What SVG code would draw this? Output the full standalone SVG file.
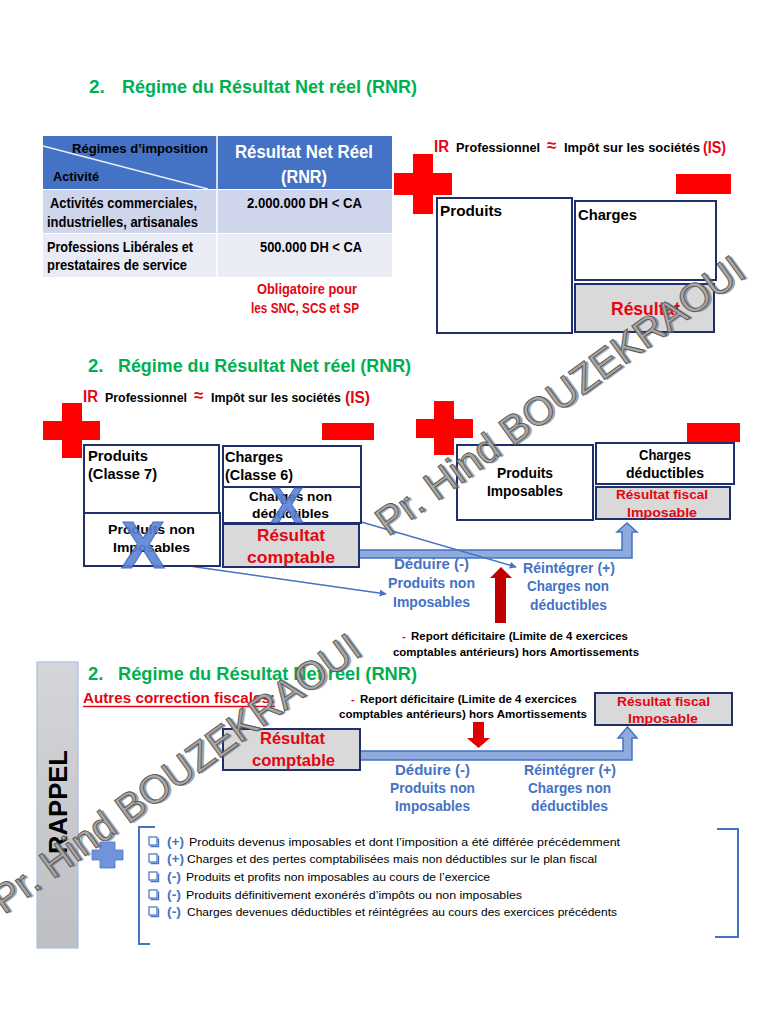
<svg xmlns="http://www.w3.org/2000/svg" width="768" height="1024" viewBox="0 0 768 1024">
<defs>
<style>
.t{font-family:"Liberation Sans",Arial,sans-serif;font-weight:bold}
.n{font-family:"Liberation Sans",Arial,sans-serif;font-weight:normal}
.g{fill:#00b050}
.r{fill:#e30613}
.dr{fill:#e00000}
.b{fill:#4472c4}
.k{fill:#000}
.w{fill:#fff}
.box{fill:#fff;stroke:#1f2f6b;stroke-width:2}
.gbox{fill:#d9d9d9;stroke:#1f2f6b;stroke-width:2}
.cross{fill:#ff0000}
.fat{fill:#8faadc;stroke:#4472c4;stroke-width:1.5}
.thin{stroke:#4472c4;stroke-width:1.6;fill:none}
.xx{fill:#5b82d6;stroke:#3a5fae;stroke-width:1;opacity:0.9}
.wm{font-family:"Liberation Sans",Arial,sans-serif;font-size:40px;fill:#a8a8a8;stroke:#555;stroke-width:0.9}
.wms{font-family:"Liberation Sans",Arial,sans-serif;font-size:40px;fill:#6a6a6a;opacity:0.6}
.cb{fill:none;stroke:#4472c4;stroke-width:1.2}
</style>
<marker id="ah" viewBox="0 0 10 10" refX="9" refY="5" markerWidth="7" markerHeight="7" orient="auto" markerUnits="userSpaceOnUse">
<path d="M0,0 L10,5 L0,10 Z" fill="#4472c4"/>
</marker>
<linearGradient id="rg" x1="0" y1="0" x2="0" y2="1">
<stop offset="0" stop-color="#d4d6da"/>
<stop offset="1" stop-color="#bdbfc2"/>
</linearGradient>
</defs>
<rect width="768" height="1024" fill="#fff"/>

<!-- ===== Section 1 ===== -->
<g id="title1">
<text class="t g" x="89" y="93" font-size="19">2.</text>
<text class="t g" x="122" y="93" font-size="19" textLength="295" lengthAdjust="spacingAndGlyphs">Régime du Résultat Net réel (RNR)</text>
</g>

<g id="table">
<rect x="43" y="136" width="349" height="53" fill="#4472c4"/>
<rect x="43" y="190" width="349" height="43" fill="#cfd5ea"/>
<rect x="43" y="234" width="349" height="43" fill="#e9ebf5"/>
<line x1="217" y1="136" x2="217" y2="277" stroke="#fff" stroke-width="1.5"/>
<line x1="43" y1="146" x2="208" y2="189" stroke="#e8eefa" stroke-width="1.3"/>
<text class="t k" x="72" y="153" font-size="13" textLength="136" lengthAdjust="spacingAndGlyphs">Régimes  d’imposition</text>
<text class="t k" x="53" y="181" font-size="13" textLength="46" lengthAdjust="spacingAndGlyphs">Activité</text>
<text class="t w" x="235" y="158" font-size="18" textLength="138" lengthAdjust="spacingAndGlyphs">Résultat Net Réel</text>
<text class="t w" x="281" y="183" font-size="18" textLength="46" lengthAdjust="spacingAndGlyphs">(RNR)</text>
<text class="t k" x="50" y="208" font-size="14" textLength="147" lengthAdjust="spacingAndGlyphs">Activités commerciales,</text>
<text class="t k" x="47" y="227" font-size="14" textLength="151" lengthAdjust="spacingAndGlyphs">industrielles, artisanales</text>
<text class="t k" x="247" y="208" font-size="14" textLength="115" lengthAdjust="spacingAndGlyphs">2.000.000 DH &lt; CA</text>
<text class="t k" x="47" y="252" font-size="14" textLength="146" lengthAdjust="spacingAndGlyphs">Professions Libérales et</text>
<text class="t k" x="47" y="270" font-size="14" textLength="140" lengthAdjust="spacingAndGlyphs">prestataires de service</text>
<text class="t k" x="260" y="252" font-size="14" textLength="102" lengthAdjust="spacingAndGlyphs">500.000 DH &lt; CA</text>
<text class="t r" x="257" y="294" font-size="14" textLength="100" lengthAdjust="spacingAndGlyphs">Obligatoire pour</text>
<text class="t r" x="251" y="313" font-size="14" textLength="108" lengthAdjust="spacingAndGlyphs">les SNC, SCS et SP</text>
</g>

<g id="ir1">
<text class="t r" x="434" y="152" font-size="16" textLength="15" lengthAdjust="spacingAndGlyphs">IR</text>
<text class="t k" x="456" y="152" font-size="13" textLength="84" lengthAdjust="spacingAndGlyphs">Professionnel</text>
<text class="t r" x="547" y="151" font-size="17">≈</text>
<text class="t k" x="564" y="152" font-size="13" textLength="136" lengthAdjust="spacingAndGlyphs">Impôt sur les sociétés</text>
<text class="t r" x="703" y="153" font-size="16" textLength="23" lengthAdjust="spacingAndGlyphs">(IS)</text>
</g>

<g id="plus1"><rect class="cross" x="394" y="173" width="58" height="22"/><rect class="cross" x="413" y="154" width="20" height="60"/></g>
<g id="minus1"><rect class="cross" x="676" y="174" width="55" height="20"/></g>

<g id="produits1"><rect class="box" x="437" y="198" width="135" height="135"/>
<text class="t k" x="440" y="216" font-size="15.5" textLength="62" lengthAdjust="spacingAndGlyphs">Produits</text></g>
<g id="charges1"><rect class="box" x="575" y="201" width="141" height="79"/>
<text class="t k" x="578" y="220" font-size="15.5" textLength="59" lengthAdjust="spacingAndGlyphs">Charges</text></g>
<g id="resultat1"><rect class="gbox" x="575" y="284" width="139" height="48"/>
<text class="t r" x="611" y="315" font-size="18" textLength="69" lengthAdjust="spacingAndGlyphs">Résultat</text></g>

<!-- ===== Section 2 ===== -->
<g id="title2">
<text class="t g" x="88" y="372" font-size="18.5">2.</text>
<text class="t g" x="118" y="372" font-size="18.5" textLength="293" lengthAdjust="spacingAndGlyphs">Régime du Résultat Net réel (RNR)</text>
</g>
<g id="ir2">
<text class="t r" x="83" y="402" font-size="16" textLength="15" lengthAdjust="spacingAndGlyphs">IR</text>
<text class="t k" x="105" y="402" font-size="13" textLength="82" lengthAdjust="spacingAndGlyphs">Professionnel</text>
<text class="t r" x="194" y="401" font-size="17">≈</text>
<text class="t k" x="211" y="402" font-size="13" textLength="130" lengthAdjust="spacingAndGlyphs">Impôt sur les sociétés</text>
<text class="t r" x="345" y="403" font-size="16" textLength="25" lengthAdjust="spacingAndGlyphs">(IS)</text>
</g>

<g id="plus2"><rect class="cross" x="43" y="421" width="57" height="19"/><rect class="cross" x="62" y="403" width="20" height="55"/></g>
<g id="minus2"><rect class="cross" x="322" y="423" width="52" height="17"/></g>
<g id="plus3"><rect class="cross" x="416" y="419" width="57" height="19"/><rect class="cross" x="434" y="401" width="20" height="54"/></g>
<g id="minus3"><rect class="cross" x="687" y="423" width="53" height="19"/></g>

<g id="connectors">
<polygon class="fat" points="355,550 622,550 622,532 617,532 627,523 637,532 632,532 632,558 355,558"/>
<polygon fill="#c00000" points="495,623 495,578 490,578 501,567 512,578 506,578 506,623"/>
<line class="thin" x1="168" y1="563" x2="386" y2="594" marker-end="url(#ah)"/>
<line class="thin" x1="327" y1="512" x2="516" y2="567" marker-end="url(#ah)"/>
<polygon class="fat" points="357,751 623,751 623,738 618,738 627.5,727 637,738 632,738 632,760 357,760"/>
<polygon fill="#e00000" points="473,722 484,722 484,738 490,738 478.5,748 467,738 473,738"/>
</g>

<g id="produits2"><rect class="box" x="84" y="445" width="135" height="68"/>
<text class="t k" x="88" y="461" font-size="15" textLength="60" lengthAdjust="spacingAndGlyphs">Produits</text>
<text class="t k" x="88" y="479" font-size="15" textLength="69" lengthAdjust="spacingAndGlyphs">(Classe 7)</text></g>
<g id="pni"><rect class="box" x="84" y="513" width="136" height="53"/>
<text class="t k" x="108" y="534" font-size="13.5" textLength="87" lengthAdjust="spacingAndGlyphs">Produits non</text>
<text class="t k" x="113" y="552" font-size="13.5" textLength="77" lengthAdjust="spacingAndGlyphs">Imposables</text>
<text class="t xx" x="143" y="568" font-size="66" text-anchor="middle">X</text></g>
<g id="charges2"><rect class="box" x="223" y="446" width="138" height="41"/>
<text class="t k" x="225" y="462" font-size="15" textLength="58" lengthAdjust="spacingAndGlyphs">Charges</text>
<text class="t k" x="225" y="480" font-size="15" textLength="68" lengthAdjust="spacingAndGlyphs">(Classe 6)</text></g>
<g id="cnd"><rect class="box" x="223" y="487" width="138" height="36"/>
<text class="t k" x="249" y="501" font-size="13.5" textLength="83" lengthAdjust="spacingAndGlyphs">Charges non</text>
<text class="t k" x="252" y="518" font-size="13.5" textLength="77" lengthAdjust="spacingAndGlyphs">déductibles</text>
<text class="t xx" x="287" y="523" font-size="50" text-anchor="middle">X</text></g>
<g id="rc2"><rect class="gbox" x="223" y="524" width="136" height="43"/>
<text class="t r" x="257" y="541" font-size="16.5" textLength="68" lengthAdjust="spacingAndGlyphs">Résultat</text>
<text class="t r" x="247" y="563" font-size="16.5" textLength="88" lengthAdjust="spacingAndGlyphs">comptable</text></g>

<g id="pimp"><rect class="box" x="457" y="445" width="136" height="75"/>
<text class="t k" x="497" y="478" font-size="14" textLength="56" lengthAdjust="spacingAndGlyphs">Produits</text>
<text class="t k" x="487" y="496" font-size="14" textLength="76" lengthAdjust="spacingAndGlyphs">Imposables</text></g>
<g id="cded"><rect class="box" x="596" y="443" width="138" height="41"/>
<text class="t k" x="639" y="460" font-size="14" textLength="52" lengthAdjust="spacingAndGlyphs">Charges</text>
<text class="t k" x="626" y="478" font-size="14" textLength="78" lengthAdjust="spacingAndGlyphs">déductibles</text></g>
<g id="rfi2"><rect class="gbox" x="596" y="487" width="134" height="32"/>
<text class="t r" x="616" y="499" font-size="13.5" textLength="92" lengthAdjust="spacingAndGlyphs">Résultat fiscal</text>
<text class="t r" x="627" y="517" font-size="13.5" textLength="70" lengthAdjust="spacingAndGlyphs">Imposable</text></g>

<g id="deduire2">
<text class="t b" x="394" y="569" font-size="14" textLength="75" lengthAdjust="spacingAndGlyphs">Déduire  (-)</text>
<text class="t b" x="388" y="588" font-size="14" textLength="87" lengthAdjust="spacingAndGlyphs">Produits non</text>
<text class="t b" x="393" y="607" font-size="14" textLength="77" lengthAdjust="spacingAndGlyphs">Imposables</text>
</g>
<g id="reint2">
<text class="t b" x="523" y="573" font-size="14" textLength="92" lengthAdjust="spacingAndGlyphs">Réintégrer (+)</text>
<text class="t b" x="527" y="591" font-size="14" textLength="82" lengthAdjust="spacingAndGlyphs">Charges non</text>
<text class="t b" x="530" y="610" font-size="14" textLength="77" lengthAdjust="spacingAndGlyphs">déductibles</text>
</g>
<g id="report2">
<text class="t r" x="402" y="640" font-size="11.5">-</text>
<text class="t k" x="411" y="640" font-size="11.5" textLength="217" lengthAdjust="spacingAndGlyphs">Report déficitaire (Limite de 4 exercices</text>
<text class="t k" x="393" y="656" font-size="11.5" textLength="246" lengthAdjust="spacingAndGlyphs">comptables antérieurs) hors Amortissements</text>
</g>

<!-- ===== Section 3 ===== -->
<g id="rappel">
<rect x="37" y="662" width="41" height="286" fill="url(#rg)" stroke="#a9bde6" stroke-width="1.2"/>
<text class="t k" x="67" y="802" font-size="26" text-anchor="middle" transform="rotate(-90 67 802)" textLength="104" lengthAdjust="spacingAndGlyphs">RAPPEL</text>
</g>
<g id="title3">
<text class="t g" x="88" y="680" font-size="18.5">2.</text>
<text class="t g" x="118" y="680" font-size="18.5" textLength="299" lengthAdjust="spacingAndGlyphs">Régime du Résultat Net réel (RNR)</text>
</g>
<g id="autres">
<text class="t r" x="83" y="703" font-size="15" textLength="192" lengthAdjust="spacingAndGlyphs">Autres correction fiscales:</text>
<line x1="83" y1="706.5" x2="275" y2="706.5" stroke="#e30613" stroke-width="1.5"/>
</g>
<g id="report3">
<text class="t r" x="351" y="703" font-size="11.5">-</text>
<text class="t k" x="360" y="703" font-size="11.5" textLength="217" lengthAdjust="spacingAndGlyphs">Report déficitaire (Limite de 4 exercices</text>
<text class="t k" x="339" y="718" font-size="11.5" textLength="248" lengthAdjust="spacingAndGlyphs">comptables antérieurs) hors Amortissements</text>
</g>
<g id="rc3"><rect class="gbox" x="223" y="729" width="137" height="41"/>
<text class="t r" x="260" y="744" font-size="16.5" textLength="65" lengthAdjust="spacingAndGlyphs">Résultat</text>
<text class="t r" x="252" y="766" font-size="16.5" textLength="83" lengthAdjust="spacingAndGlyphs">comptable</text></g>
<g id="rfi3"><rect class="gbox" x="595" y="693" width="137" height="32"/>
<text class="t r" x="617" y="706" font-size="13.5" textLength="93" lengthAdjust="spacingAndGlyphs">Résultat fiscal</text>
<text class="t r" x="628" y="723" font-size="13.5" textLength="70" lengthAdjust="spacingAndGlyphs">Imposable</text></g>
<g id="deduire3">
<text class="t b" x="395" y="775" font-size="14" textLength="75" lengthAdjust="spacingAndGlyphs">Déduire  (-)</text>
<text class="t b" x="390" y="793" font-size="14" textLength="85" lengthAdjust="spacingAndGlyphs">Produits non</text>
<text class="t b" x="395" y="811" font-size="14" textLength="75" lengthAdjust="spacingAndGlyphs">Imposables</text>
</g>
<g id="reint3">
<text class="t b" x="524" y="775" font-size="14" textLength="92" lengthAdjust="spacingAndGlyphs">Réintégrer (+)</text>
<text class="t b" x="528" y="793" font-size="14" textLength="83" lengthAdjust="spacingAndGlyphs">Charges non</text>
<text class="t b" x="531" y="811" font-size="14" textLength="77" lengthAdjust="spacingAndGlyphs">déductibles</text>
</g>

<g id="blueplus"><path d="M100,842 H115 V850 H123 V860 H115 V868 H100 V860 H92 V850 H100 Z" fill="#7094da" stroke="#4f74c4" stroke-width="0.8"/></g>

<g id="brackets" fill="none" stroke="#4472c4" stroke-width="2">
<path d="M155,827 H139 V944 H150"/>
<path d="M717,829 H738 V937 H715"/>
</g>

<g id="list">
<g id="cbs">
<rect class="cb" x="149" y="837" width="8" height="8"/><path d="M158.5,838.5 V846.5 H150.5" stroke="#4472c4" stroke-width="1.4" fill="none"/>
<rect class="cb" x="149" y="854" width="8" height="8"/><path d="M158.5,855.5 V863.5 H150.5" stroke="#4472c4" stroke-width="1.4" fill="none"/>
<rect class="cb" x="149" y="872" width="8" height="8"/><path d="M158.5,873.5 V881.5 H150.5" stroke="#4472c4" stroke-width="1.4" fill="none"/>
<rect class="cb" x="149" y="890" width="8" height="8"/><path d="M158.5,891.5 V899.5 H150.5" stroke="#4472c4" stroke-width="1.4" fill="none"/>
<rect class="cb" x="149" y="907" width="8" height="8"/><path d="M158.5,908.5 V916.5 H150.5" stroke="#4472c4" stroke-width="1.4" fill="none"/>
</g>
<text class="t b" x="167" y="846" font-size="12" textLength="17" lengthAdjust="spacingAndGlyphs">(+)</text>
<text class="n k" x="189" y="846" font-size="11.5" textLength="431" lengthAdjust="spacingAndGlyphs">Produits devenus imposables et dont l’imposition a été différée précédemment</text>
<text class="t b" x="167" y="863" font-size="12" textLength="17" lengthAdjust="spacingAndGlyphs">(+)</text>
<text class="n k" x="187" y="863" font-size="11.5" textLength="410" lengthAdjust="spacingAndGlyphs">Charges et des pertes comptabilisées mais non déductibles sur le plan fiscal</text>
<text class="t b" x="167" y="881" font-size="12" textLength="14" lengthAdjust="spacingAndGlyphs">(-)</text>
<text class="n k" x="186" y="881" font-size="11.5" textLength="304" lengthAdjust="spacingAndGlyphs">Produits et profits non imposables au cours de l’exercice</text>
<text class="t b" x="167" y="899" font-size="12" textLength="14" lengthAdjust="spacingAndGlyphs">(-)</text>
<text class="n k" x="186" y="899" font-size="11.5" textLength="336" lengthAdjust="spacingAndGlyphs">Produits définitivement exonérés d’impôts ou non imposables</text>
<text class="t b" x="167" y="916" font-size="12" textLength="14" lengthAdjust="spacingAndGlyphs">(-)</text>
<text class="n k" x="187" y="916" font-size="11.5" textLength="430" lengthAdjust="spacingAndGlyphs">Charges devenues déductibles et réintégrées au cours des exercices précédents</text>
</g>

<!-- Watermarks -->
<g id="watermark1" transform="rotate(-36 388 537)">
<text class="wms" x="390" y="539">Pr. Hind BOUZEKRAOUI</text>
<text class="wm" x="388" y="537">Pr. Hind BOUZEKRAOUI</text>
</g>
<g id="watermark2" transform="rotate(-36 4 915)">
<text class="wms" x="6" y="917">Pr. Hind BOUZEKRAOUI</text>
<text class="wm" x="4" y="915">Pr. Hind BOUZEKRAOUI</text>
</g>
</svg>
